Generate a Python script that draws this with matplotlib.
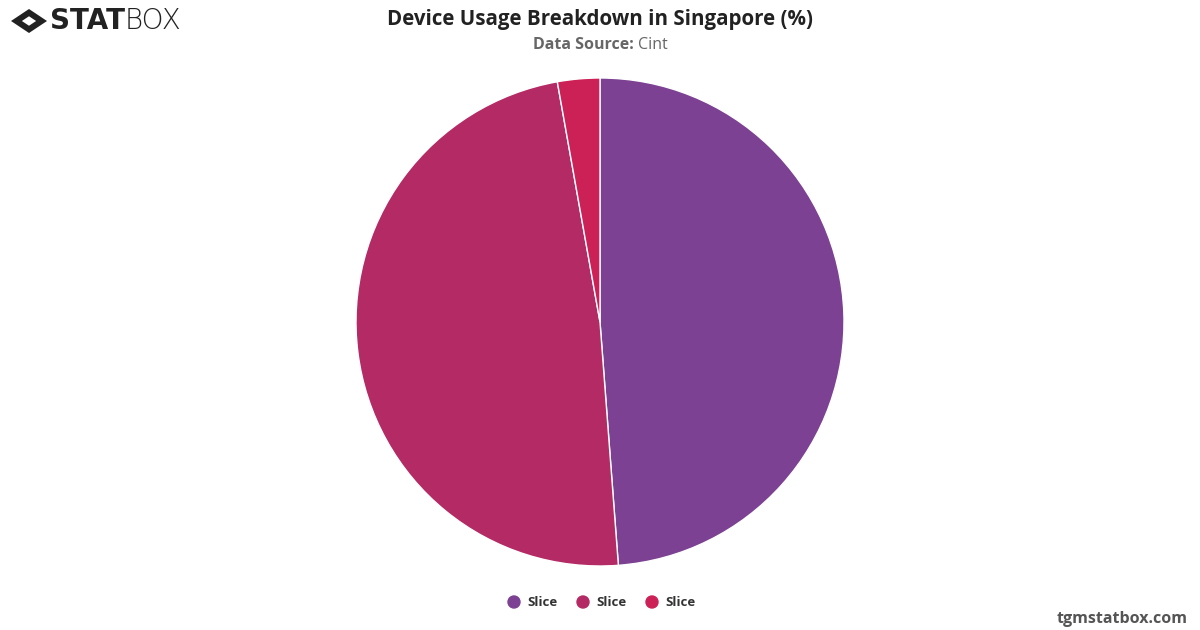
import matplotlib.pyplot as plt
from matplotlib.patches import Polygon, Ellipse

# Data
labels = ["Slice", "Slice", "Slice"]
shares = [48.8, 48.4, 2.8]
colors = ["#7c4192", "#b32a64", "#cc2157"]

title = "Device Usage Breakdown in Singapore (%)"
source = "Cint"

W, H = 1200, 630
fig = plt.figure(figsize=(W / 100, H / 100), dpi=100)
fig.patch.set_facecolor("white")

# pie, centered at (600, 322) px with radius 244 px
cx, cy, r = 600, 322, 244
ax = fig.add_axes([(cx - r) / W, (H - cy - r) / H, 2 * r / W, 2 * r / H])
ax.pie(shares, colors=colors, startangle=90, counterclock=False, radius=1,
       wedgeprops=dict(edgecolor="white", linewidth=1))
ax.set_xlim(-1, 1)
ax.set_ylim(-1, 1)
ax.set_axis_off()

# titles
fig.text(600 / W, 1 - 19 / H, title, ha="center", va="center",
         fontsize=14.8, fontweight="bold", color="#222222", family="Open Sans")
s1 = fig.text(0, 1 - 45 / H, "Data Source: ", ha="left", va="center",
              fontsize=11.5, fontweight="bold", color="#666666", family="Open Sans")
s2 = fig.text(0, 1 - 45 / H, source, ha="left", va="center",
              fontsize=11.5, color="#666666", family="Open Sans")
fig.canvas.draw()
w1 = s1.get_window_extent().width
w2 = s2.get_window_extent().width
x0 = 600 - (w1 + w2) / 2
s1.set_x(x0 / W)
s2.set_x((x0 + w1) / W)

# legend
leg_x = [514, 583, 652]
for x, lab, col in zip(leg_x, labels, colors):
    fig.patches.append(Ellipse((x / W, 1 - 602 / H), 12 / W, 12 / H, color=col,
                               transform=fig.transFigure, figure=fig))
    fig.text((x + 13) / W, 1 - 602 / H, lab, ha="left", va="center",
             fontsize=9.5, fontweight="bold", color="#333333", family="Open Sans")

# logo, top left
lx, ly = 29, 21
outer = [(lx - 18, ly), (lx, ly - 12), (lx + 18, ly), (lx, ly + 12)]
inner = [(lx - 9, ly), (lx, ly - 6), (lx + 9, ly), (lx, ly + 6)]
fig.patches.append(Polygon([(x / W, 1 - y / H) for x, y in outer], closed=True,
                           facecolor="#222222", transform=fig.transFigure, figure=fig))
fig.patches.append(Polygon([(x / W, 1 - y / H) for x, y in inner], closed=True,
                           facecolor="white", edgecolor="#222222", linewidth=1.5,
                           transform=fig.transFigure, figure=fig))
t = fig.text(50 / W, 1 - ly / H, "STAT", ha="left", va="center", fontsize=20,
             fontweight="heavy", color="#222222", family="DejaVu Sans")
fig.canvas.draw()
bb = t.get_window_extent()
fig.text(bb.x1 / W, 1 - ly / H, "BOX", ha="left", va="center", fontsize=20,
         fontweight="light", color="#222222", family="DejaVu Sans")

# footer
fig.text(1188 / W, 1 - 619 / H, "tgmstatbox.com", ha="right", va="center",
         fontsize=11.5, fontweight="bold", color="#555555", family="Open Sans")

fig.savefig("out.png", dpi=100, facecolor="white")
